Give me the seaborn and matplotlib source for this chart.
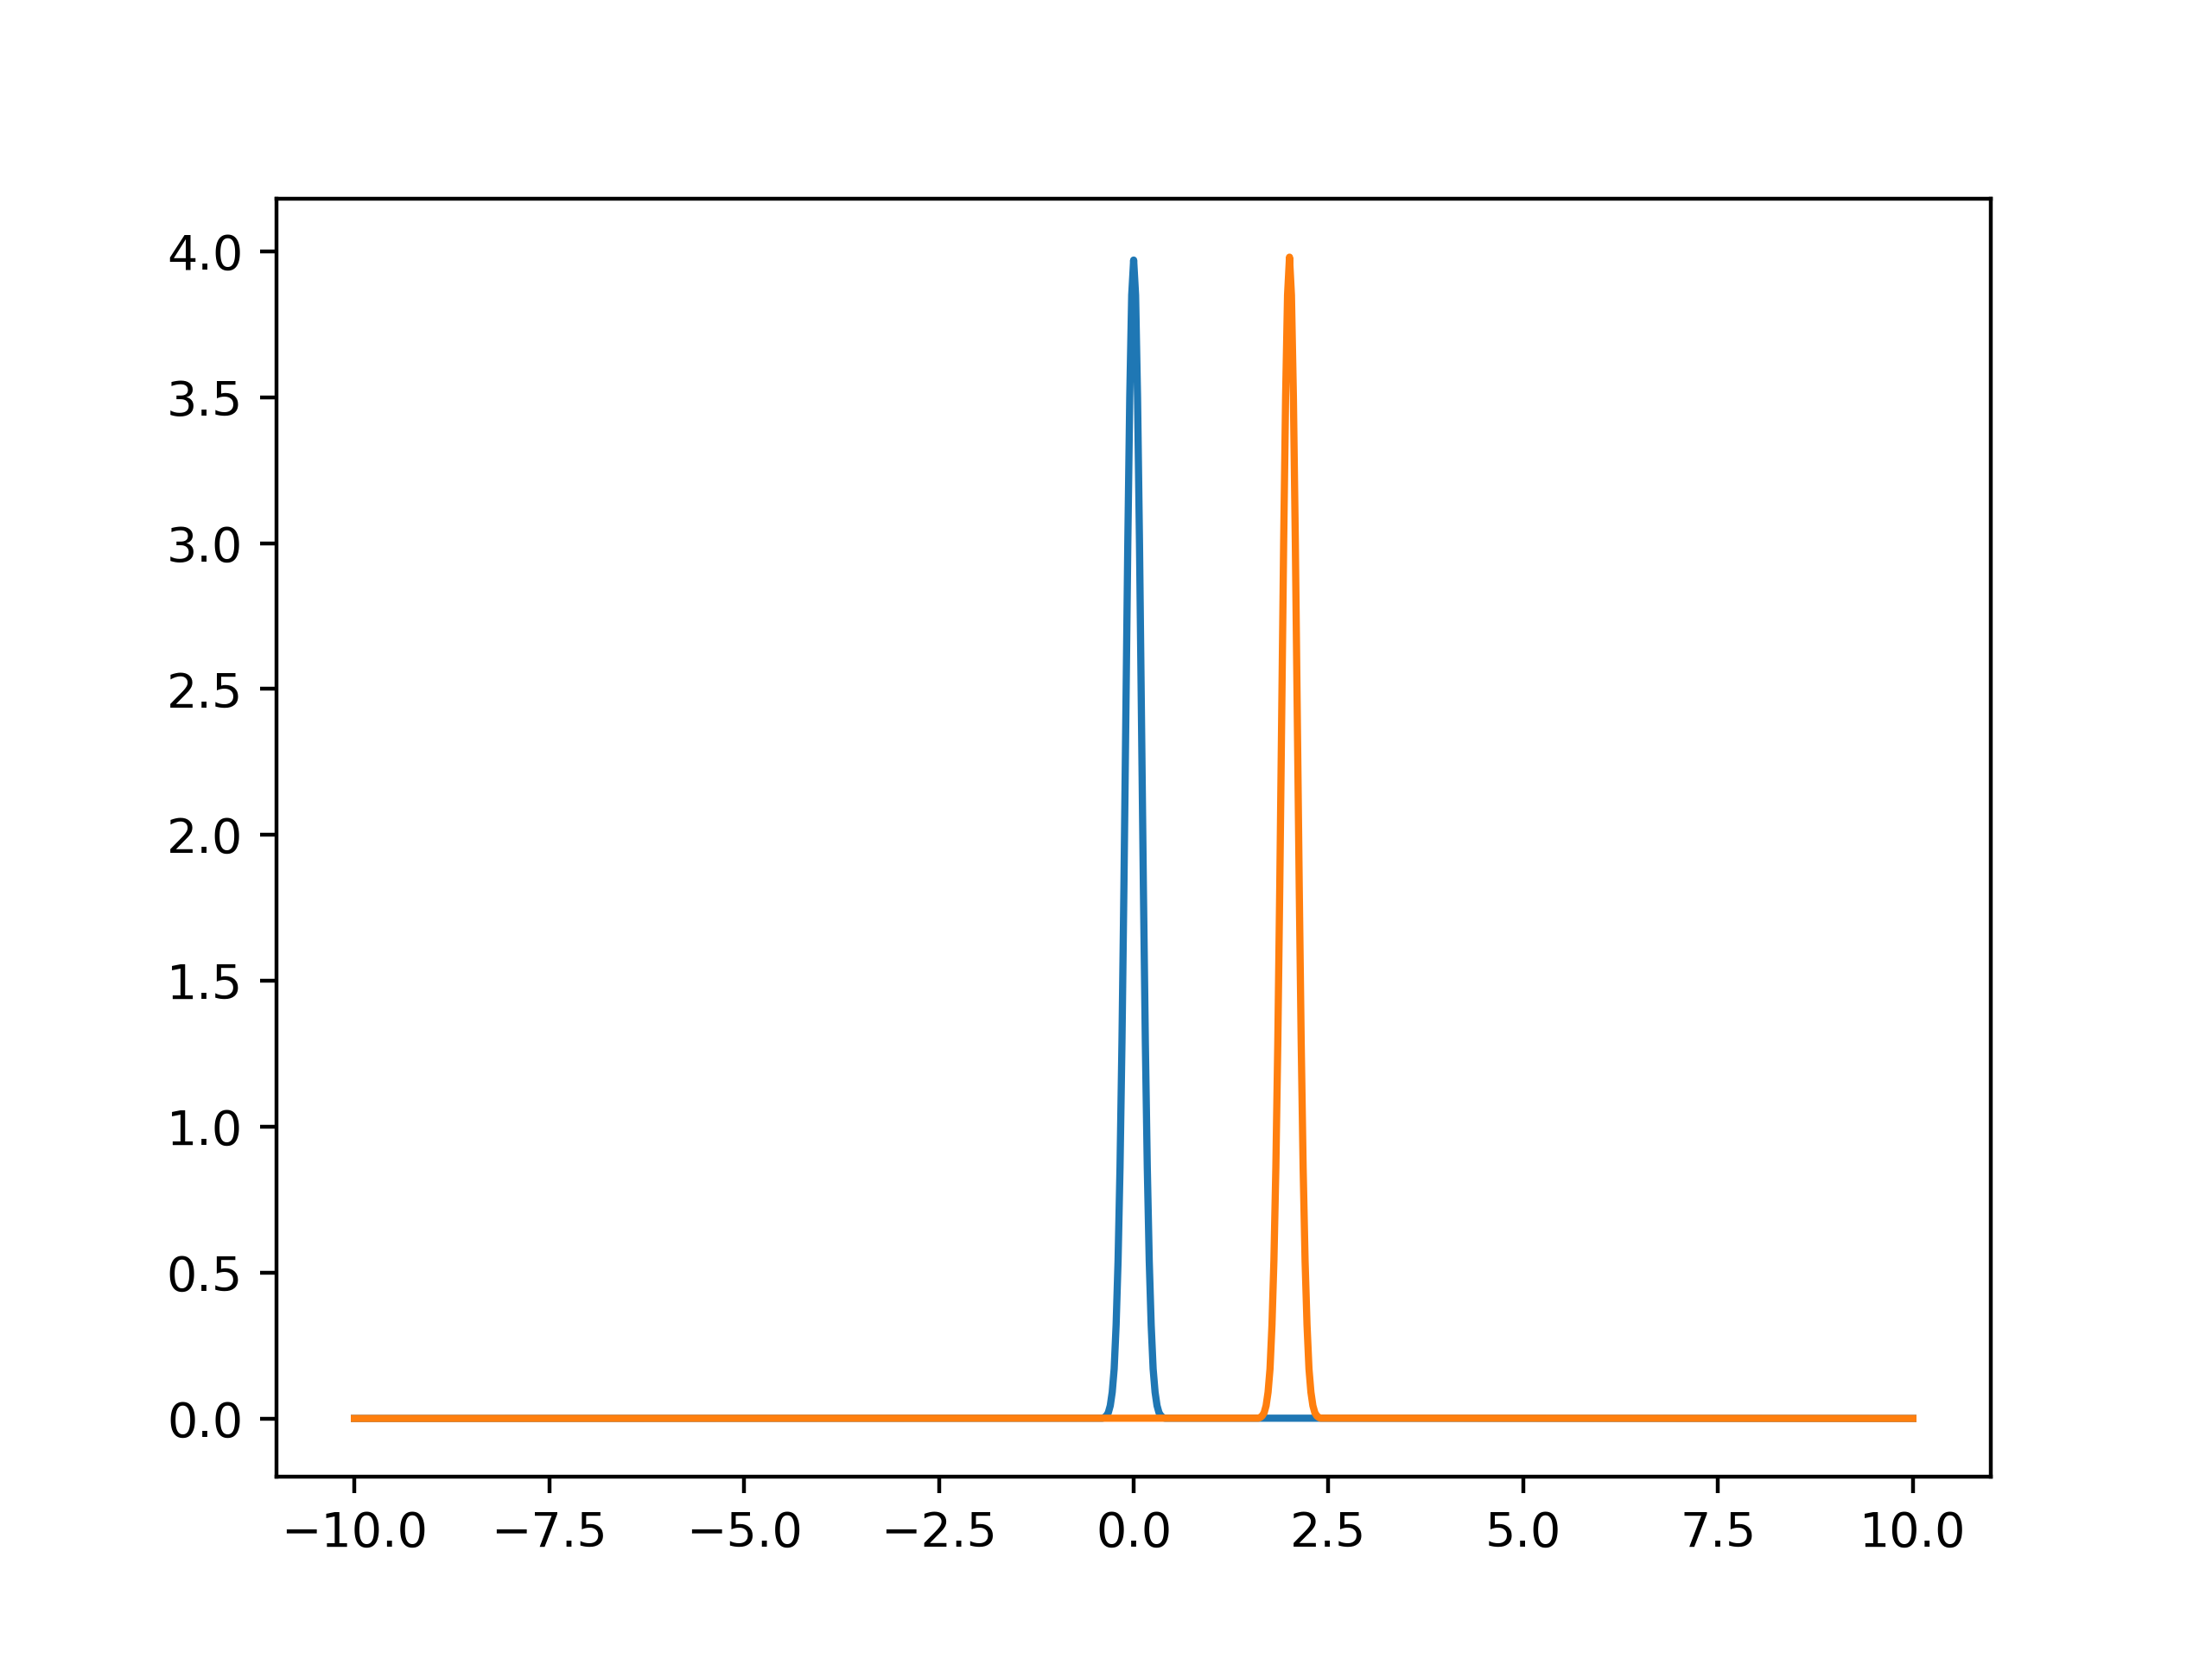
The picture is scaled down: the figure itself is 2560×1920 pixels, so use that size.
import matplotlib
matplotlib.use("Agg")
import matplotlib.pyplot as plt
import seaborn as sns

# values: two narrow peaks on a flat zero line
blue_x = [-10.0, -0.4, -0.375, -0.35, -0.325, -0.3, -0.275, -0.25, -0.225, -0.2,
          -0.175, -0.15, -0.125, -0.1, -0.075, -0.05, -0.025, 0.0,
          0.025, 0.05, 0.075, 0.1, 0.125, 0.15, 0.175, 0.2, 0.225, 0.25,
          0.275, 0.3, 0.325, 0.35, 0.375, 0.4, 10.0]
blue_y = [0.0, 0.001, 0.0035, 0.009, 0.02, 0.044, 0.09, 0.17, 0.32, 0.54,
          0.86, 1.29, 1.82, 2.41, 3.0, 3.5, 3.85, 3.97,
          3.85, 3.5, 3.0, 2.41, 1.82, 1.29, 0.86, 0.54, 0.32, 0.17,
          0.09, 0.044, 0.02, 0.009, 0.0035, 0.001, 0.0]

orange_x = [-10.0, 1.6, 1.625, 1.65, 1.675, 1.7, 1.725, 1.75, 1.775, 1.8,
            1.825, 1.85, 1.875, 1.9, 1.925, 1.95, 1.975, 2.0,
            2.025, 2.05, 2.075, 2.1, 2.125, 2.15, 2.175, 2.2, 2.225, 2.25,
            2.275, 2.3, 2.325, 2.35, 2.375, 2.4, 10.0]
orange_y = [0.0, 0.001, 0.0035, 0.009, 0.02, 0.044, 0.09, 0.17, 0.32, 0.54,
            0.86, 1.29, 1.82, 2.41, 3.0, 3.5, 3.85, 3.98,
            3.85, 3.5, 3.0, 2.41, 1.82, 1.29, 0.86, 0.54, 0.32, 0.17,
            0.09, 0.044, 0.02, 0.009, 0.0035, 0.001, 0.0]

fig, ax = plt.subplots(figsize=(6.4, 4.8))

sns.lineplot(x=blue_x, y=blue_y, ax=ax, color="tab:blue", sort=False,
             estimator=None, linewidth=1.5)
sns.lineplot(x=orange_x, y=orange_y, ax=ax, color="tab:orange", sort=False,
             estimator=None, linewidth=1.5)

ax.set_xlabel("")
ax.set_ylabel("")

plt.savefig("out.png", dpi=400)
